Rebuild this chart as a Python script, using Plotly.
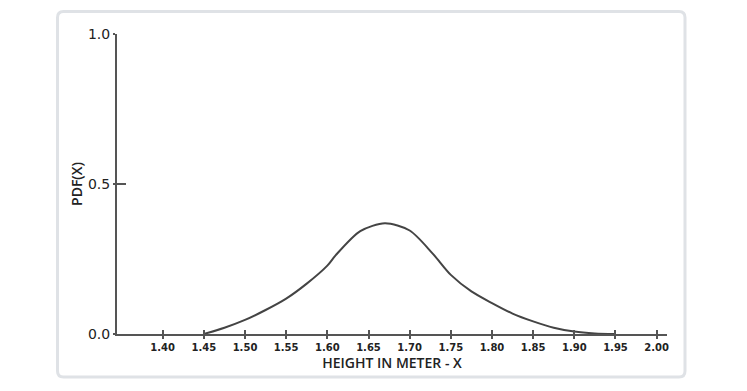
import plotly.graph_objects as go

# Data
height_m = [1.45, 1.475, 1.50, 1.525, 1.55, 1.575, 1.60, 1.61, 1.64, 1.67,
            1.70, 1.728, 1.75, 1.775, 1.80, 1.825, 1.85, 1.875, 1.90, 1.925, 1.95]
pdf_vals = [0.0, 0.021, 0.047, 0.08, 0.118, 0.168, 0.228, 0.262, 0.343, 0.369,
            0.345, 0.268, 0.197, 0.142, 0.103, 0.068, 0.042, 0.021, 0.008, 0.002, 0.0]
x_ticks = [1.40, 1.45, 1.50, 1.55, 1.60, 1.65, 1.70, 1.75, 1.80, 1.85, 1.90, 1.95, 2.00]
y_ticks = [0.0, 0.5, 1.0]

OFF = 8  # page body margin
W, H = 747 - OFF, 391 - OFF
L, T = 117 - OFF, 34 - OFF
pw, ph = 550, 300
R, B = W - L - pw, H - T - ph

def px_x(p):
    return (p - OFF - L) / pw

def px_y(p):
    return (T + ph - (p - OFF)) / ph

fig = go.Figure()
fig.add_trace(go.Scatter(
    x=height_m, y=pdf_vals, mode="lines",
    line=dict(color="#444444", width=2, shape="spline", smoothing=0.8),
    hoverinfo="skip", showlegend=False,
))
fig.add_trace(go.Scatter(x=[None], y=[None], xaxis="x2", yaxis="y2",
                         showlegend=False, hoverinfo="skip"))

# rounded card border
x0, x1 = px_x(57.5), px_x(685)
y0, y1 = px_y(377), px_y(11.5)
rx, ry = 6 / pw, 6 / ph
path = (f"M {x0+rx},{y1} L {x1-rx},{y1} Q {x1},{y1} {x1},{y1-ry} "
        f"L {x1},{y0+ry} Q {x1},{y0} {x1-rx},{y0} L {x0+rx},{y0} "
        f"Q {x0},{y0} {x0},{y0+ry} L {x0},{y1-ry} Q {x0},{y1} {x0+rx},{y1} Z")
fig.add_shape(type="path", path=path, xref="paper", yref="paper",
              line=dict(color="#dfe2e6", width=3), layer="below")

xr = [1.3445, 2.0126]
yr = [0, 1.0]
axis_col = "#555555"

fig.update_layout(
    width=W, height=H,
    margin=dict(l=L, r=R, t=T, b=B, pad=0),
    paper_bgcolor="white", plot_bgcolor="white",
    xaxis=dict(
        range=xr, tickvals=x_ticks, ticktext=[f"{v:.2f}" for v in x_ticks],
        showgrid=False, zeroline=False, showline=True, linecolor=axis_col, linewidth=2,
        ticks="outside", ticklen=3, tickwidth=2, tickcolor=axis_col,
        tickfont=dict(family="DejaVu Sans", size=10, color="#222222", weight=700),
        title=dict(text="HEIGHT IN METER - X", standoff=6,
                   font=dict(family="Open Sans", size=14, color="#222222", weight=600)),
    ),
    yaxis=dict(
        range=yr, tickvals=y_ticks, ticktext=[f"{v:.1f}" for v in y_ticks],
        showgrid=False, zeroline=False, showline=True, linecolor=axis_col, linewidth=2,
        ticks="outside", ticklen=2, tickwidth=2, tickcolor=axis_col,
        tickfont=dict(family="DejaVu Sans", size=14, color="#222222"),
        title=dict(text="PDF(X)", standoff=2,
                   font=dict(family="Open Sans", size=14, color="#222222", weight=600)),
    ),
    xaxis2=dict(
        range=xr, overlaying="x", anchor="y2", tickvals=x_ticks, showticklabels=False,
        showgrid=False, zeroline=False, showline=False,
        ticks="inside", ticklen=4, tickwidth=2, tickcolor=axis_col,
    ),
    yaxis2=dict(
        range=yr, overlaying="y", anchor="x2", tickvals=y_ticks, showticklabels=False,
        showgrid=False, zeroline=False, showline=False,
        ticks="inside", ticklen=9, tickwidth=2, tickcolor=axis_col,
    ),
)

fig.write_html("out.html")
